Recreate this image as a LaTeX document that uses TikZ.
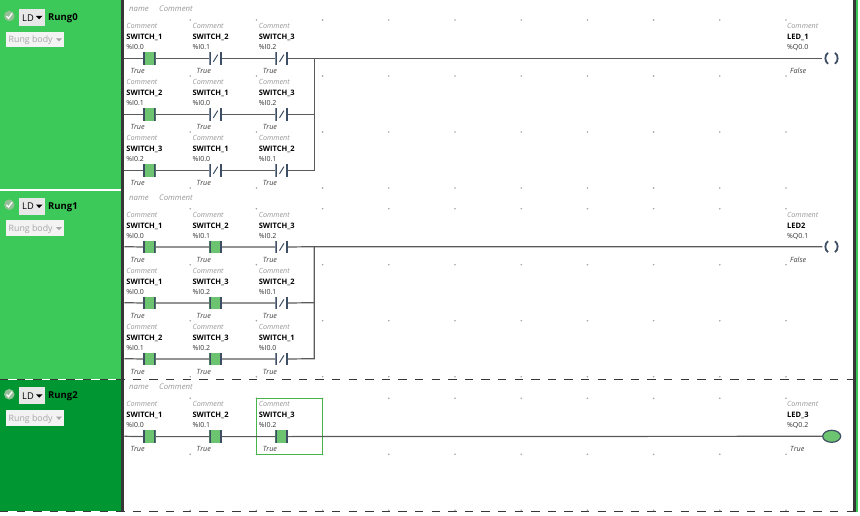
\documentclass[tikz,border=0pt]{standalone}
\usepackage{fontspec}
\setmainfont{Open Sans}
\usetikzlibrary{shapes.geometric}
\definecolor{panelgreen}{RGB}{61,201,89}
\definecolor{paneldark}{RGB}{0,150,50}
\definecolor{railgray}{RGB}{55,55,55}
\definecolor{wiregray}{RGB}{90,90,90}
\definecolor{contactgreen}{RGB}{108,196,112}
\definecolor{contactbar}{RGB}{62,78,100}
\definecolor{dotgray}{RGB}{165,165,165}
\definecolor{labelgray}{RGB}{150,150,150}
\definecolor{checkgreen}{RGB}{150,190,152}
\definecolor{boxgray}{RGB}{232,232,232}
\definecolor{bodygray}{RGB}{243,243,243}
\definecolor{selgreen}{RGB}{70,180,70}
\begin{document}
\begin{tikzpicture}[x=1pt, y=-1pt,
	comment/.style={anchor=base west, inner sep=0pt, text=labelgray, font=\fontsize{7.2}{8}\selectfont\itshape},
	header/.style={comment, font=\fontsize{7.8}{9}\selectfont\itshape},
	tagname/.style={anchor=base west, inner sep=0pt, font=\fontsize{7.5}{9}\selectfont\bfseries},
	address/.style={anchor=base west, inner sep=0pt, text=black!80, font=\fontsize{7}{8}\selectfont},
	state/.style={anchor=base west, inner sep=0pt, text=black!75, font=\fontsize{7.2}{8}\selectfont\itshape},
	wire/.style={draw=wiregray, line width=1.2pt},
	nocontact/.style={rectangle, inner sep=0pt, minimum width=12.5pt, minimum height=12.5pt, fill=contactgreen,
		path picture={
			\fill[contactbar] (path picture bounding box.north west) rectangle ++(2pt,-12.5pt);
			\fill[contactbar] (path picture bounding box.north east) rectangle ++(-2pt,-12.5pt);}},
	nccontact/.style={rectangle, inner sep=0pt, minimum width=12.5pt, minimum height=12.5pt,
		path picture={
			\fill[contactbar] (path picture bounding box.north west) rectangle ++(2pt,-12.5pt);
			\fill[contactbar] (path picture bounding box.north east) rectangle ++(-2pt,-12.5pt);
			\draw[contactbar, line width=1pt] ([xshift=-2.2pt, yshift=-3.6pt]path picture bounding box.center) -- ([xshift=2.2pt, yshift=3.6pt]path picture bounding box.center);}},
	coil/.style={rectangle, inner sep=0pt, minimum width=18pt, minimum height=13pt,
		path picture={
			\draw[contactbar, line width=1.8pt] ([xshift=5.5pt, yshift=5.5pt]path picture bounding box.west) to[bend right=55] ([xshift=5.5pt, yshift=-5.5pt]path picture bounding box.west);
			\draw[contactbar, line width=1.8pt] ([xshift=-5.5pt, yshift=5.5pt]path picture bounding box.east) to[bend left=55] ([xshift=-5.5pt, yshift=-5.5pt]path picture bounding box.east);}},
	coilon/.style={ellipse, inner sep=0pt, minimum width=18pt, minimum height=12pt, fill=contactgreen, draw=contactbar, line width=1.2pt},
	checkmark/.style={circle, fill=checkgreen, minimum size=10.5pt, inner sep=0pt},
	ldtext/.style={anchor=base west, inner sep=0pt, font=\fontsize{9.3}{10}\selectfont},
	rungtitle/.style={anchor=base west, inner sep=0pt, font=\fontsize{9.5}{11}\selectfont\bfseries},
	bodytext/.style={anchor=base west, inner sep=0pt, text=black!35, font=\fontsize{8.8}{10}\selectfont},
	dashline/.style={draw=railgray, line width=1pt, dash pattern=on 8.3pt off 8.3pt}]
	\useasboundingbox (0,0) rectangle (860,516);

	%rung panels
	\fill[panelgreen] (0,0) rectangle (121,189.5);
	\fill[panelgreen] (0,190.8) rectangle (121,378.5);
	\fill[paneldark] (0,379.5) rectangle (121,510.5);
	\draw[white, line width=1pt] (0,379) -- (852.5,379);
	\draw[dashline] (0,379) -- (852.5,379);
	\draw[dashline] (0,511) -- (852.5,511);

	%grid dots
	\foreach \y in {20, 76, 132, 188, 208.7, 264.7, 320.7, 376.7, 398.3, 454.3, 510.3}{
		\foreach \k in {1, 2, ..., 10}{
			\fill[dotgray] (124+66.2*\k, \y) circle (0.9);
		}
	}

	%selected cell
	\draw[selgreen, line width=0.8pt] (256.4,398.3) rectangle (322.6,454.3);

	%contacts
	\foreach \n/\col/\y/\tg/\ad/\kind in {
		s0a1/0/20/SWITCH\_1/\%I0.0/nocontact, s0a2/1/20/SWITCH\_2/\%I0.1/nccontact, s0a3/2/20/SWITCH\_3/\%I0.2/nccontact,
		s0b1/0/76/SWITCH\_2/\%I0.1/nocontact, s0b2/1/76/SWITCH\_1/\%I0.0/nccontact, s0b3/2/76/SWITCH\_3/\%I0.2/nccontact,
		s0c1/0/132/SWITCH\_3/\%I0.2/nocontact, s0c2/1/132/SWITCH\_1/\%I0.0/nccontact, s0c3/2/132/SWITCH\_2/\%I0.1/nccontact,
		s1a1/0/208.7/SWITCH\_1/\%I0.0/nocontact, s1a2/1/208.7/SWITCH\_2/\%I0.1/nocontact, s1a3/2/208.7/SWITCH\_3/\%I0.2/nccontact,
		s1b1/0/264.7/SWITCH\_1/\%I0.0/nocontact, s1b2/1/264.7/SWITCH\_3/\%I0.2/nocontact, s1b3/2/264.7/SWITCH\_2/\%I0.1/nccontact,
		s1c1/0/320.7/SWITCH\_2/\%I0.1/nocontact, s1c2/1/320.7/SWITCH\_3/\%I0.2/nocontact, s1c3/2/320.7/SWITCH\_1/\%I0.0/nccontact,
		s2a1/0/398.3/SWITCH\_1/\%I0.0/nocontact, s2a2/1/398.3/SWITCH\_2/\%I0.1/nocontact, s2a3/2/398.3/SWITCH\_3/\%I0.2/nocontact}{
		\pgfmathsetmacro{\x}{124+66.2*\col}
		\node[\kind] (\n) at (\x+25.3, \y+38.3) {};
		\node[comment] (\n-cm) at (\x+2.2, \y+8.4) {Comment};
		\node[tagname] (\n-tg) at (\x+2.2, \y+19.5) {\tg};
		\node[address] (\n-ad) at (\x+2.2, \y+29.4) {\ad};
		\node[state] (\n-st) at (\x+6.3, \y+53.3) {True};
	}

	%coils
	\node[coil] (led0) at (831.5,58.3) {};
	\node[coil] (led1) at (831.5,246.7) {};
	\node[coilon] (led2) at (831.7,436.3) {};
	\foreach \n/\y/\tg/\ad/\st in {led0/20/LED\_1/\%Q0.0/False, led1/208.7/LED2/\%Q0.1/False, led2/398.3/LED\_3/\%Q0.2/True}{
		\node[comment] (\n-cm) at (787,\y+8.4) {Comment};
		\node[tagname] (\n-tg) at (787,\y+19.5) {\tg};
		\node[address] (\n-ad) at (787,\y+29.4) {\ad};
		\node[state] (\n-st) at (790,\y+53.3) {\st};
	}

	%wires
	\foreach \r/\w in {0a/58.3, 0b/114.3, 0c/170.3, 1a/246.7, 1b/302.7, 1c/358.7, 2a/436.3}{
		\coordinate (rail\r) at (124.3,\w);
		\draw[wire] (rail\r) -- (s\r1.west) (s\r1.east) -- (s\r2.west) (s\r2.east) -- (s\r3.west);
	}
	\foreach \r/\wa/\wb/\wc in {0/58.3/114.3/170.3, 1/246.7/302.7/358.7}{
		\coordinate (join\r a) at (314.3,\wa);
		\coordinate (join\r b) at (314.3,\wb);
		\coordinate (join\r c) at (314.3,\wc);
		\draw[wire] (s\r a3.east) -- (join\r a) -- (led\r.west);
		\draw[wire] (s\r b3.east) -- (join\r b);
		\draw[wire] (s\r c3.east) -- (join\r c) -- (join\r a);
	}
	\draw[wire] (s2a3.east) -- (led2.west);

	%power rails
	\fill[railgray] (121,0) rectangle (124.3,511.5);
	\fill[railgray] (852.5,0) rectangle (855.5,511.5);
	\fill[panelgreen] (855.5,0) rectangle (857.5,511.5);

	%rung headers
	\foreach \r/\y in {0/20, 1/208.7, 2/398.3}{
		\node[header] (name\r) at (129,\y-8.4) {name};
		\node[header] (note\r) at (159,\y-8.4) {Comment};
		\node[checkmark] (chk\r) at (9.3,\y-4) {};
		\draw[white, line width=1.3pt] ([shift={(-2.8,0.2)}]chk\r.center) -- ([shift={(-0.8,2.3)}]chk\r.center) -- ([shift={(2.9,-2.6)}]chk\r.center);
		\fill[boxgray] (19,\y-11) rectangle (45,\y+6);
		\node[ldtext] (ld\r) at (22,\y+1.2) {LD};
		\fill (36,\y-4) -- (42.5,\y-4) -- (39.2,\y-0.7) -- cycle;
		\node[rungtitle] (rung\r) at (48,\y+0.4) {Rung\r};
		\fill[bodygray] (6,\y+11.7) rectangle (64,\y+27.3);
		\node[bodytext] (body\r) at (8.5,\y+22.7) {Rung body};
		\fill[black!35] (56,\y+18.3) -- (62,\y+18.3) -- (59,\y+21.5) -- cycle;
	}
\end{tikzpicture}
\end{document}
